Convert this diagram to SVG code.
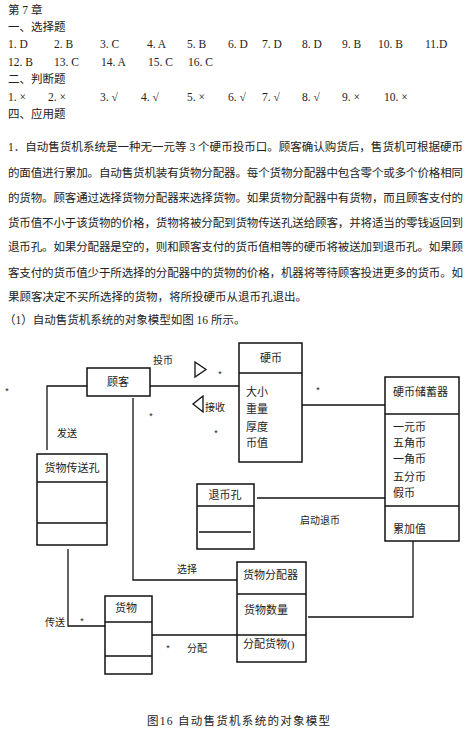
<svg xmlns="http://www.w3.org/2000/svg" width="474" height="730" viewBox="0 0 474 730">
<style>
text{font-family:"Liberation Serif","Noto Sans CJK SC",serif;fill:#222;dominant-baseline:central}
.t{font-size:11.5px}
.d{font-size:11px}
.s{font-size:10px}
.m{font-size:9px;font-family:"Liberation Sans",sans-serif}
.c{text-anchor:middle}
.box{fill:#fff;stroke:#111;stroke-width:1.5}
.ln{fill:none;stroke:#111;stroke-width:1.3}
</style>
<rect width="474" height="730" fill="#fff"/>
<g id="answers" class="t">
<text x="8" y="10">第 7 章</text>
<text x="8" y="27">一、选择题</text>
<text y="44"><tspan x="8">1. D</tspan><tspan x="54">2. B</tspan><tspan x="100">3. C</tspan><tspan x="147">4. A</tspan><tspan x="187">5. B</tspan><tspan x="228">6. D</tspan><tspan x="262">7. D</tspan><tspan x="302">8. D</tspan><tspan x="342">9. B</tspan><tspan x="378">10. B</tspan><tspan x="425">11.D</tspan></text>
<text y="62"><tspan x="8">12. B</tspan><tspan x="54">13. C</tspan><tspan x="101">14. A</tspan><tspan x="148">15. C</tspan><tspan x="188">16. C</tspan></text>
<text x="8" y="79">二、判断题</text>
<text y="97"><tspan x="8">1. ×</tspan><tspan x="48">2. ×</tspan><tspan x="100">3. √</tspan><tspan x="141">4. √</tspan><tspan x="187">5. ×</tspan><tspan x="228">6. √</tspan><tspan x="262">7. √</tspan><tspan x="302">8. √</tspan><tspan x="342">9. ×</tspan><tspan x="384">10. ×</tspan></text>
<text x="8" y="114">四、应用题</text>
</g>
<g id="paragraph" class="t">
<text x="8" y="147" textLength="455" lengthAdjust="spacing">1．自动售货机系统是一种无一元等 3 个硬币投币口。顾客确认购货后，售货机可根据硬币</text>
<text x="8" y="173" textLength="455" lengthAdjust="spacing">的面值进行累加。自动售货机装有货物分配器。每个货物分配器中包含零个或多个价格相同</text>
<text x="8" y="198" textLength="455" lengthAdjust="spacing">的货物。顾客通过选择货物分配器来选择货物。如果货物分配器中有货物，而且顾客支付的</text>
<text x="8" y="223" textLength="455" lengthAdjust="spacing">货币值不小于该货物的价格，货物将被分配到货物传送孔送给顾客，并将适当的零钱返回到</text>
<text x="8" y="247" textLength="455" lengthAdjust="spacing">退币孔。如果分配器是空的，则和顾客支付的货币值相等的硬币将被送加到退币孔。如果顾</text>
<text x="8" y="273" textLength="455" lengthAdjust="spacing">客支付的货币值少于所选择的分配器中的货物的价格，机器将等待顾客投进更多的货币。如</text>
<text x="8" y="297">果顾客决定不买所选择的货物，将所投硬币从退币孔退出。</text>
<text x="4" y="320">（1）自动售货机系统的对象模型如图 16 所示。</text>
</g>
<g id="connectors">
<polyline class="ln" points="87,386 47,386 47,450"/>
<line class="ln" x1="150" y1="386" x2="239" y2="386"/>
<polyline class="ln" points="133,398 133,580 237,580"/>
<polyline class="ln" points="68,549 68,626 105,626"/>
<line class="ln" x1="152" y1="635" x2="237" y2="635"/>
<line class="ln" x1="299" y1="405" x2="385" y2="405"/>
<line class="ln" x1="257" y1="498" x2="385" y2="498"/>
<polyline class="ln" points="413,541 413,617 308,617"/>
<polygon class="ln" points="195,362 206,369.5 195,377"/>
<polygon class="ln" points="203,396 193,404 203,412"/>
<text class="s" x="153" y="360">投币</text>
<text class="s" x="205" y="407">接收</text>
<text class="s" x="57" y="433">发送</text>
<text class="s" x="177" y="569">选择</text>
<text class="s" x="45" y="622">传送</text>
<text class="s" x="187" y="648">分配</text>
<text class="s" x="300" y="520">启动退币</text>
<text class="m c" x="7" y="391">*</text>
<text class="m c" x="151" y="416">*</text>
<text class="m c" x="220" y="374">*</text>
<text class="m c" x="216" y="433">*</text>
<text class="m c" x="318" y="390">*</text>
<text class="m c" x="82" y="621">*</text>
<text class="m c" x="168" y="648">*</text>
</g>
<g id="customer">
<rect class="box" x="87" y="368" width="63" height="28"/>
<text class="d c" x="118" y="382">顾客</text>
</g>
<g id="coin">
<rect class="box" x="239" y="343" width="63" height="119"/>
<line class="ln" x1="239" y1="373" x2="302" y2="373"/>
<text class="d c" x="271" y="358">硬币</text>
<text class="d" x="246" y="392">大小</text>
<text class="d" x="246" y="409">重量</text>
<text class="d" x="246" y="427">厚度</text>
<text class="d" x="246" y="443">币值</text>
</g>
<g id="coinstore">
<rect class="box" x="385" y="377" width="74" height="164"/>
<line class="ln" x1="385" y1="414" x2="459" y2="414"/>
<line class="ln" x1="385" y1="506" x2="459" y2="506"/>
<text class="d" x="393" y="392">硬币储蓄器</text>
<text class="d" x="393" y="427">一元币</text>
<text class="d" x="393" y="443">五角币</text>
<text class="d" x="393" y="459">一角币</text>
<text class="d" x="393" y="477">五分币</text>
<text class="d" x="393" y="493">假币</text>
<text class="d" x="393" y="529">累加值</text>
</g>
<g id="refund">
<rect class="box" x="197" y="484" width="57" height="65"/>
<line class="ln" x1="197" y1="506" x2="254" y2="506"/>
<line class="ln" x1="199" y1="532" x2="251" y2="532"/>
<text class="d c" x="225" y="495">退币孔</text>
</g>
<g id="delivery">
<rect class="box" x="37" y="454" width="70" height="91"/>
<line class="ln" x1="37" y1="482" x2="107" y2="482"/>
<line class="ln" x1="37" y1="523" x2="107" y2="523"/>
<text class="d c" x="72" y="468">货物传送孔</text>
</g>
<g id="goods">
<rect class="box" x="105" y="596" width="47" height="78"/>
<line class="ln" x1="105" y1="622" x2="152" y2="622"/>
<line class="ln" x1="105" y1="656" x2="152" y2="656"/>
<text class="d" x="115" y="608">货物</text>
</g>
<g id="dispenser">
<rect class="box" x="237" y="562" width="69" height="100"/>
<line class="ln" x1="237" y1="594" x2="306" y2="594"/>
<line class="ln" x1="237" y1="635" x2="306" y2="635"/>
<text class="d" x="243" y="575">货物分配器</text>
<text class="d" x="244" y="610">货物数量</text>
<text class="d" x="243" y="644">分配货物()</text>
</g>
<text class="t" x="147" y="721" textLength="183" lengthAdjust="spacing">图16 自动售货机系统的对象模型</text>
</svg>
